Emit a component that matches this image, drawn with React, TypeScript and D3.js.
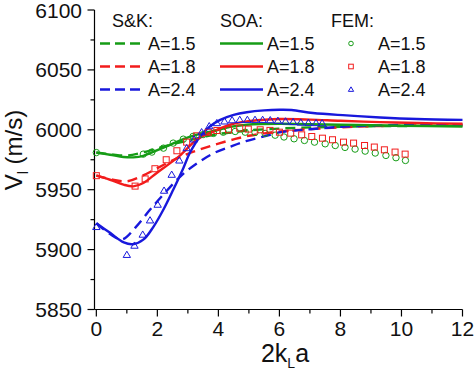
import React from "react";
import * as d3 from "d3";

type Pt = [number, number];

// S&K model (dashed)
const skA15: Pt[] = [[0, 5981], [0.5, 5979.5], [1, 5978.5], [1.5, 5981], [2, 5984.5], [2.5, 5988], [3, 5991], [3.5, 5994], [4, 5996.5], [4.5, 5998], [5, 5999.5], [6, 6001], [7, 6002], [8, 6002.5], [9, 6003], [10, 6003.2], [12, 6003.5]];
const skA18: Pt[] = [[0, 5962], [0.5, 5958.5], [1, 5957], [1.5, 5961.5], [2, 5968], [2.5, 5974.5], [3, 5980], [3.5, 5984.5], [4, 5988.5], [4.5, 5992], [5, 5995], [5.5, 5997], [6, 5998.6], [7, 6000.5], [8, 6002], [9, 6003], [10, 6003.5], [12, 6004]];
const skA24: Pt[] = [[0, 5922], [0.45, 5913], [0.85, 5908.5], [1.3, 5919], [1.75, 5933], [2.2, 5946], [2.75, 5961], [3.3, 5972], [3.85, 5980.5], [4.4, 5986], [4.9, 5990.5], [5.5, 5994.5], [6, 5997.8], [7, 6000.5], [8, 6002.5], [9, 6003.5], [10, 6004], [12, 6004.5]];

// SOA model (solid)
const soaA15: Pt[] = [[0, 5981], [0.45, 5979.2], [0.89, 5977.3], [1.21, 5977], [1.54, 5978.3], [1.98, 5982.8], [2.42, 5987.5], [2.85, 5992.2], [3.3, 5996], [3.84, 5999], [4.38, 6002.5], [4.93, 6004.2], [6, 6005], [7, 6004.6], [8.5, 6004], [10, 6003.4], [12, 6002.8]];
const soaA18: Pt[] = [[0, 5961.7], [0.45, 5958.3], [0.89, 5954.2], [1.21, 5952.8], [1.54, 5955.6], [1.98, 5964], [2.42, 5972.2], [2.74, 5978.5], [3.29, 5991.7], [3.84, 5998.6], [4.38, 6004.2], [4.93, 6007], [5.48, 6008.3], [6, 6009], [7, 6008.5], [8, 6007.5], [9.3, 6006.4], [10.5, 6005.7], [12, 6005]];
const soaA24: Pt[] = [[0, 5922], [0.45, 5914], [0.9, 5906], [1.2, 5904.5], [1.55, 5908.5], [1.87, 5919], [2.2, 5933.5], [2.52, 5950], [2.85, 5968], [3.07, 5981], [3.4, 5994.5], [3.73, 6003], [4.06, 6008.3], [4.5, 6012.5], [4.93, 6014.7], [5.5, 6016.2], [6, 6016.7], [6.4, 6016.5], [7.1, 6014], [8.2, 6012], [9.3, 6010.3], [10.5, 6009], [12, 6008.3]];

// FEM results (markers)
const femA15: Pt[] = [[0, 5981], [1.54, 5979.7], [1.82, 5981.4], [2.2, 5984.7], [2.52, 5988.9], [2.85, 5992.2], [3.17, 5994.5], [3.5, 5996], [3.84, 5997], [4.16, 5998], [4.55, 5998.6], [4.88, 5998], [5.2, 5997.8], [5.53, 5997], [5.86, 5995.5], [6.15, 5994], [6.48, 5992.5], [6.82, 5991.1], [7.15, 5989.7], [7.5, 5988.3], [7.83, 5986.9], [8.15, 5985.3], [8.48, 5983.9], [8.81, 5982.2], [9.14, 5980.6], [9.49, 5978.6], [9.82, 5976.7], [10.13, 5974.4]];
const femA18: Pt[] = [[0, 5961.7], [1.27, 5953], [1.6, 5959], [1.92, 5967.5], [2.29, 5975], [2.64, 5982.5], [2.96, 5989.7], [3.29, 5995], [3.67, 5998], [3.95, 5999.4], [4.33, 6000], [4.7, 6001.4], [4.98, 6000.6], [5.37, 6000], [5.69, 5999.5], [6, 5998], [6.37, 5997.2], [6.73, 5995.8], [7.06, 5994.4], [7.41, 5993], [7.74, 5991.7], [8.1, 5989.7], [8.43, 5988.9], [8.79, 5986.9], [9.11, 5985.6], [9.44, 5983.3], [9.79, 5981.4], [10.12, 5979.7]];
const femA24: Pt[] = [[0, 5918.9], [1.0, 5895.6], [1.25, 5903.3], [1.52, 5912.5], [1.76, 5924.4], [2.01, 5937.5], [2.22, 5949.2], [2.47, 5962.5], [2.72, 5974.4], [2.96, 5984.7], [3.2, 5992], [3.45, 5998], [3.7, 6003], [3.95, 6005.6], [4.2, 6007], [4.45, 6008], [4.7, 6008.3], [4.95, 6008.3], [5.2, 6008.3], [5.45, 6008.3], [5.7, 6008], [5.95, 6007.5], [6.2, 6007], [6.45, 6006.5], [6.7, 6006], [6.95, 6005.8], [7.2, 6005.6], [7.4, 6005.5]];

const xTicks = [0, 2, 4, 6, 8, 10, 12];
const yTicks = [5850, 5900, 5950, 6000, 6050, 6100];
const legendLabels = ["A=1.5", "A=1.8", "A=2.4"];

const GREEN = "#169c16";
const RED = "#f21c1c";
const BLUE = "#1818dc";
const colors = [GREEN, RED, BLUE];
const font = "'Liberation Sans', Arial, sans-serif";

const App: React.FC = () => {
  const x = d3.scaleLinear().domain([-0.06, 12]).range([94.5, 462.5]);
  const y = d3.scaleLinear().domain([5850, 6100]).range([309.5, 10]);

  const line = d3
    .line<Pt>()
    .x((d) => x(d[0]))
    .y((d) => y(d[1]))
    .curve(d3.curveCatmullRom.alpha(0.5));

  const skSeries = [skA15, skA18, skA24];
  const soaSeries = [soaA15, soaA18, soaA24];

  const marker = (kind: number, cx: number, cy: number, s: number, key: string) => {
    const c = colors[kind];
    if (kind === 0) return <circle key={key} cx={cx} cy={cy} r={s} fill="none" stroke={c} strokeWidth={1} />;
    if (kind === 1)
      return <rect key={key} x={cx - s} y={cy - s} width={2 * s} height={2 * s} fill="none" stroke={c} strokeWidth={1} />;
    const h = s * 1.15;
    return (
      <path
        key={key}
        d={`M${cx},${cy - h}L${cx + h},${cy + h * 0.7}L${cx - h},${cy + h * 0.7}Z`}
        fill="none"
        stroke={c}
        strokeWidth={1}
      />
    );
  };

  const xMinor = d3.range(1, 12, 2);
  const yMinor = d3.range(5875, 6100, 50);

  const rowY = [43.5, 66.5, 89.5];

  return (
    <svg width={474} height={372} style={{ position: "absolute", left: 0, top: 0, background: "#fff" }} fontFamily={font}>
      {/* axes */}
      <g stroke="#000" strokeWidth={1.2}>
        <line x1={x.range()[0]} x2={x.range()[0]} y1={y(5850)} y2={y(6100)} />
        <line x1={x.range()[0]} x2={x(12)} y1={y(5850)} y2={y(5850)} />
        {yTicks.map((t) => (
          <line key={"yt" + t} x1={x.range()[0] - 7} x2={x.range()[0]} y1={y(t)} y2={y(t)} />
        ))}
        {yMinor.map((t) => (
          <line key={"ym" + t} x1={x.range()[0] - 4} x2={x.range()[0]} y1={y(t)} y2={y(t)} />
        ))}
        {xTicks.map((t) => (
          <line key={"xt" + t} x1={x(t)} x2={x(t)} y1={y(5850)} y2={y(5850) + 7} />
        ))}
        {xMinor.map((t) => (
          <line key={"xm" + t} x1={x(t)} x2={x(t)} y1={y(5850)} y2={y(5850) + 4} />
        ))}
      </g>
      <g fontSize={21} fill="#111">
        {yTicks.map((t) => (
          <text key={"yl" + t} x={82} y={y(t)} dy="0.36em" textAnchor="end">
            {t}
          </text>
        ))}
        {xTicks.map((t) => (
          <text key={"xl" + t} x={x(t)} y={336} textAnchor="middle">
            {t}
          </text>
        ))}
      </g>
      <text x={285} y={362} textAnchor="middle" fontSize={25} fill="#111">
        2k<tspan fontSize={14} dy={6}>L</tspan>
        <tspan dy={-6}>a</tspan>
      </text>
      <text transform="translate(22,150) rotate(-90)" textAnchor="middle" fontSize={24} fill="#111">
        V<tspan fontSize={14} dy={6}>l</tspan>
        <tspan dy={-6}> (m/s)</tspan>
      </text>

      {/* model curves */}
      {skSeries.map((s, i) => (
        <path key={"sk" + i} d={line(s) ?? ""} fill="none" stroke={colors[i]} strokeWidth={2.4} strokeDasharray="10,6" />
      ))}
      {soaSeries.map((s, i) => (
        <path key={"soa" + i} d={line(s) ?? ""} fill="none" stroke={colors[i]} strokeWidth={2.4} />
      ))}
      {/* FEM markers */}
      {femA15.map((d, j) => marker(0, x(d[0]), y(d[1]), 3.2, "f0" + j))}
      {femA18.map((d, j) => marker(1, x(d[0]), y(d[1]), 3, "f1" + j))}
      {femA24.map((d, j) => marker(2, x(d[0]), y(d[1]), 3.2, "f2" + j))}

      {/* legend */}
      <g fontSize={18} fill="#111">
        <text x={112} y={27}>S&amp;K:</text>
        <text x={220} y={27}>SOA:</text>
        <text x={331} y={27}>FEM:</text>
        {legendLabels.map((lab, i) => (
          <g key={"lg" + i}>
            <line x1={100} x2={144} y1={rowY[i]} y2={rowY[i]} stroke={colors[i]} strokeWidth={2.4} strokeDasharray="10,5" />
            <text x={148} y={rowY[i]} dy="0.36em">{lab}</text>
            <line x1={220} x2={263} y1={rowY[i]} y2={rowY[i]} stroke={colors[i]} strokeWidth={2.4} />
            <text x={267} y={rowY[i]} dy="0.36em">{lab}</text>
            {marker(i, 351, rowY[i], 2.3, "lm" + i)}
            <text x={378} y={rowY[i]} dy="0.36em">{lab}</text>
          </g>
        ))}
      </g>
    </svg>
  );
};

export default App;
